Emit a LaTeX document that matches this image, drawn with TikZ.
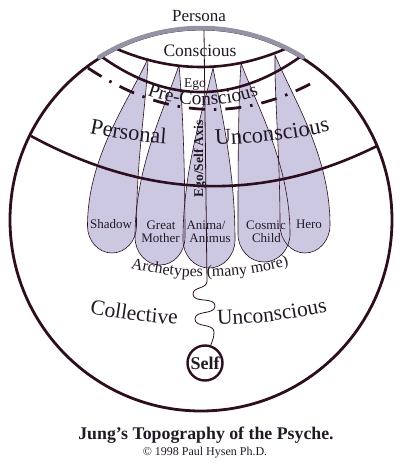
\documentclass[tikz,border=0pt]{standalone}
\usepackage{fontspec}
\setmainfont{Liberation Serif}
\usetikzlibrary{decorations.text,calc}
\definecolor{ink}{RGB}{45,14,30}
\definecolor{txt}{RGB}{35,25,38}
\definecolor{lav}{RGB}{205,200,226}
\definecolor{pers}{RGB}{148,146,165}
\newcommand{\myfs}[1]{\fontsize{#1}{#1}\selectfont}
% apex x, apex y, lobe centre x, lobe centre y, half width, bottom depth, style
\newcommand{\droppath}[7]{%
 \path[#7] (#1,-#2) .. controls ({#1+0.28*((#3-#5)-#1)-2},{-(#2+0.25*(#4-#2))}) and ({#3-#5},{-(#4-70)}) .. ({#3-#5},-#4)
 arc[start angle=180,end angle=360,x radius=#5,y radius=#6]
 .. controls ({#3+#5},{-(#4-70)}) and ({#1+0.28*((#3+#5)-#1)+2},{-(#2+0.25*(#4-#2))}) .. (#1,-#2) -- cycle;}
\begin{document}
\begin{tikzpicture}[x=1pt,y=1pt,line join=round,
  mainline/.style={draw=ink,line width=2.6pt},
  dropfill/.style={fill=lav},
  dropline/.style={draw=ink,line width=0.6pt},
  thinline/.style={draw=ink,line width=0.8pt},
  lbl/.style={text=txt,font=\myfs{13},inner sep=0pt,anchor=base},
  curvetext/.style={decorate,decoration={text along path,text align=center,text color=txt,text={#1}}}]
\useasboundingbox (0,0) rectangle (403,-468);
\fill[white] (0,0) rectangle (403,-468);
\coordinate (O) at (201,-220);
% archetype drops
\droppath{148}{58.5}{112}{226}{24.5}{27}{dropfill}
\droppath{179}{65}{160}{237}{25}{28}{dropfill}
\droppath{213}{68}{209}{240}{26}{28}{dropfill}
\droppath{241}{63}{264}{234}{26}{28}{dropfill}
\droppath{275}{55}{305}{225}{25}{28}{dropfill}
\droppath{148}{58.5}{112}{226}{24.5}{27}{dropline}
\droppath{179}{65}{160}{237}{25}{28}{dropline}
\droppath{213}{68}{209}{240}{26}{28}{dropline}
\droppath{241}{63}{264}{234}{26}{28}{dropline}
\droppath{275}{55}{305}{225}{25}{28}{dropline}
% layer boundaries
\coordinate (c1l) at (117,-49); \coordinate (c1r) at (285,-49);
\draw[mainline] (c1l) .. controls (173,-73) and (229,-73) .. (c1r);
\coordinate (c2l) at (102,-57); \coordinate (c2r) at (300,-57);
\draw[mainline] (c2l) .. controls (168,-103.7) and (234,-103.7) .. (c2r);
\coordinate (pcl) at (88,-68); \coordinate (pcr) at (312,-83);
\draw[draw=ink,line width=2.8pt,dash pattern=on 16pt off 9pt on 2.5pt off 9pt] (pcl) .. controls (162.7,-117.7) and (237.3,-122.7) .. (pcr);
\coordinate (pul) at (31,-136); \coordinate (pur) at (377,-146);
\draw[mainline] (pul) .. controls (147.7,-199.3) and (263,-202.7) .. (pur);
\draw[mainline,line width=2.8pt] (O) circle[radius=191];
\draw[pers,line width=4.5pt,line cap=round] ([shift={(122:192)}]O) arc[start angle=122,end angle=58,radius=192];
% ego-self axis
\coordinate (axistop) at (204,-30);
\coordinate (axisbot) at (207,-282);
\draw[thinline] (axistop) -- (axisbot);
\node[circle,draw=ink,line width=2.4pt,minimum size=35pt,inner sep=0pt,text=txt,font=\myfs{18}\bfseries] (self) at (205,-363) {Self};
\coordinate (w1) at (193,-294);
\coordinate (w2) at (215,-306);
\coordinate (w3) at (195,-319);
\coordinate (w4) at (214,-332);
\draw[thinline] (axisbot) to[out=-100,in=90] (w1) to[out=-90,in=90] (w2) to[out=-90,in=90] (w3) to[out=-90,in=90] (w4) to[out=-90,in=70] (self.72);
% texts
\node[lbl,font=\myfs{17}] (persona) at (199,-21.5) {Persona};
\node[lbl,font=\myfs{17.5}] (conscious) at (200,-57) {Conscious};
\node[lbl,font=\myfs{13.5}] (ego) at (195,-88) {Ego};
\path[curvetext={|\myfs{19.5}|Pre-Conscious}] ([shift={(235:164)}]203,59) arc[start angle=235,end angle=305,radius=164];
\path[curvetext={|\myfs{22.5}|Personal}] ([shift={(256.2:570)}]205,425) arc[start angle=256.2,end angle=268.2,radius=570];
\path[curvetext={|\myfs{22.5}|Unconscious}] ([shift={(268.85:570)}]205,425) arc[start angle=268.85,end angle=284.85,radius=570];
\node[lbl,rotate=90,font=\myfs{13.5}\bfseries] (axislabel) at (203,-159) {Ego/Self Axis};
\node[lbl] (shadow) at (111,-228.5) {Shadow};
\node[lbl] (great) at (161,-229) {Great};
\node[lbl] (mother) at (160.5,-242.5) {Mother};
\node[lbl] (anima) at (206,-229) {Anima/};
\node[lbl] (animus) at (210,-242.5) {Animus};
\node[lbl] (cosmic) at (266,-229) {Cosmic};
\node[lbl] (child) at (266.5,-242.5) {Child};
\node[lbl] (hero) at (309,-228.5) {Hero};
\path[curvetext={|\myfs{16}|Archetypes (many more)}] ([shift={(250.9:312)}]205,35) arc[start angle=250.9,end angle=290.9,radius=312];
\path[curvetext={|\myfs{21.5}|Collective}] ([shift={(255.9:580)}]205,255) arc[start angle=255.9,end angle=269.9,radius=580];
\path[curvetext={|\myfs{21.5}|Unconscious}] ([shift={(268.7:580)}]205,255) arc[start angle=268.7,end angle=284.7,radius=580];
\node[lbl,font=\myfs{17.8}\bfseries] (title) at (206,-439.5) {Jung's Topography of the Psyche.};
\node[lbl,font=\myfs{12}] (copyright) at (205,-455) {© 1998 Paul Hysen Ph.D.};
\end{tikzpicture}
\end{document}
